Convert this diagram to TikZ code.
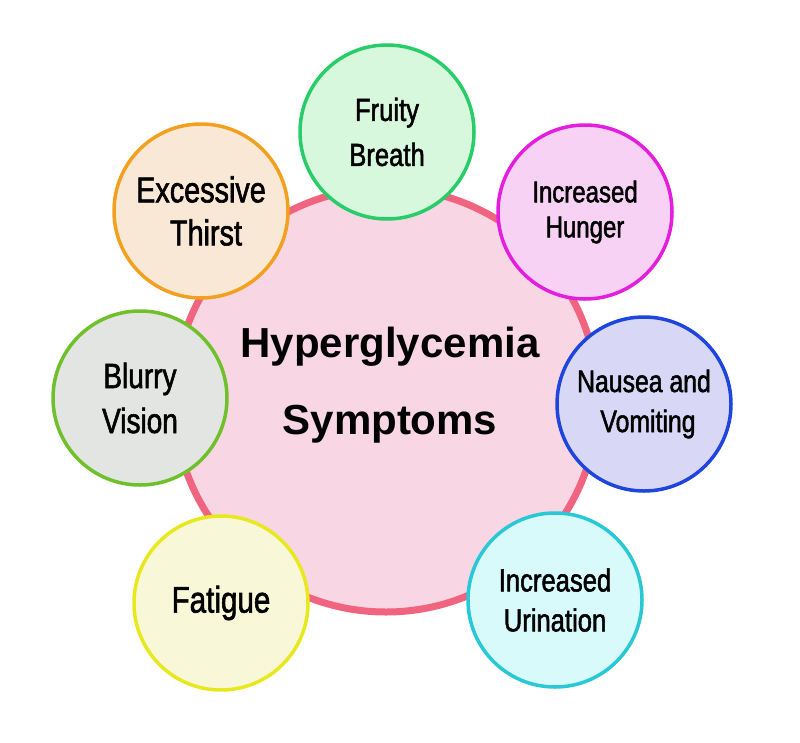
\documentclass[tikz,border=0pt]{standalone}
\usepackage{fontspec}
\setmainfont{Liberation Sans}
\newfontfamily\narrowsans[FakeStretch=0.8, FakeBold=1.6]{Liberation Sans}
\usepackage{xcolor}
\definecolor{ringred}{RGB}{240,100,128}
\definecolor{hubpink}{RGB}{248,214,227}
\definecolor{greenline}{RGB}{40,205,105}
\definecolor{greenfill}{RGB}{216,248,222}
\definecolor{magline}{RGB}{228,30,220}
\definecolor{magfill}{RGB}{247,210,245}
\definecolor{blueline}{RGB}{30,70,222}
\definecolor{bluefill}{RGB}{216,216,246}
\definecolor{cyanline}{RGB}{40,200,212}
\definecolor{cyanfill}{RGB}{216,250,250}
\definecolor{yellowline}{RGB}{232,232,30}
\definecolor{yellowfill}{RGB}{248,248,216}
\definecolor{limeline}{RGB}{112,192,44}
\definecolor{greyfill}{RGB}{226,229,226}
\definecolor{orangeline}{RGB}{242,160,30}
\definecolor{orangefill}{RGB}{250,232,214}
\usepackage{tikz}
\usetikzlibrary{positioning}

\begin{document}
\begin{tikzpicture}[x=1pt, y=-1pt,
  hub/.style={circle, draw=ringred, fill=hubpink, line width=7pt,
              minimum size=424pt, inner sep=0pt},
  symptom/.style={circle, line width=3.5pt, minimum size=174pt,
                  inner sep=0pt, align=center, text=black},
  title/.style={align=center, font=\fontsize{42}{77}\selectfont\bfseries}
]
  \useasboundingbox (0,0) rectangle (800,742);
  \node[hub] (hub) at (386,400) {};
  \node[title] (ttl) at (390,385) {Hyperglycemia\\Symptoms};
  % symptoms round the hub
  \node[symptom, draw=greenline, fill=greenfill,
        font=\narrowsans\fontsize{32}{45}\selectfont] (fruity) at (387,132) {Fruity\\Breath};
  \node[symptom, draw=magline, fill=magfill,
        font=\narrowsans\fontsize{30}{35}\selectfont] (hunger) at (585,212) {Increased\\Hunger};
  \node[symptom, draw=blueline, fill=bluefill,
        font=\narrowsans\fontsize{31}{40}\selectfont] (nausea) at (644,404) {Nausea and\\\hspace*{8pt}Vomiting};
  \node[symptom, draw=cyanline, fill=cyanfill,
        font=\narrowsans\fontsize{32}{40}\selectfont] (urine) at (555,600) {Increased\\Urination};
  \node[symptom, draw=yellowline, fill=yellowfill,
        font=\narrowsans\fontsize{37}{44}\selectfont] (fatigue) at (221,603) {Fatigue};
  \node[symptom, draw=limeline, fill=greyfill,
        font=\narrowsans\fontsize{35}{45}\selectfont] (blurry) at (140,398) {Blurry\\Vision};
  \node[symptom, draw=orangeline, fill=orangefill,
        font=\narrowsans\fontsize{36}{43}\selectfont] (thirst) at (201,211) {Excessive\\\hspace*{10pt}Thirst};
\end{tikzpicture}
\end{document}
